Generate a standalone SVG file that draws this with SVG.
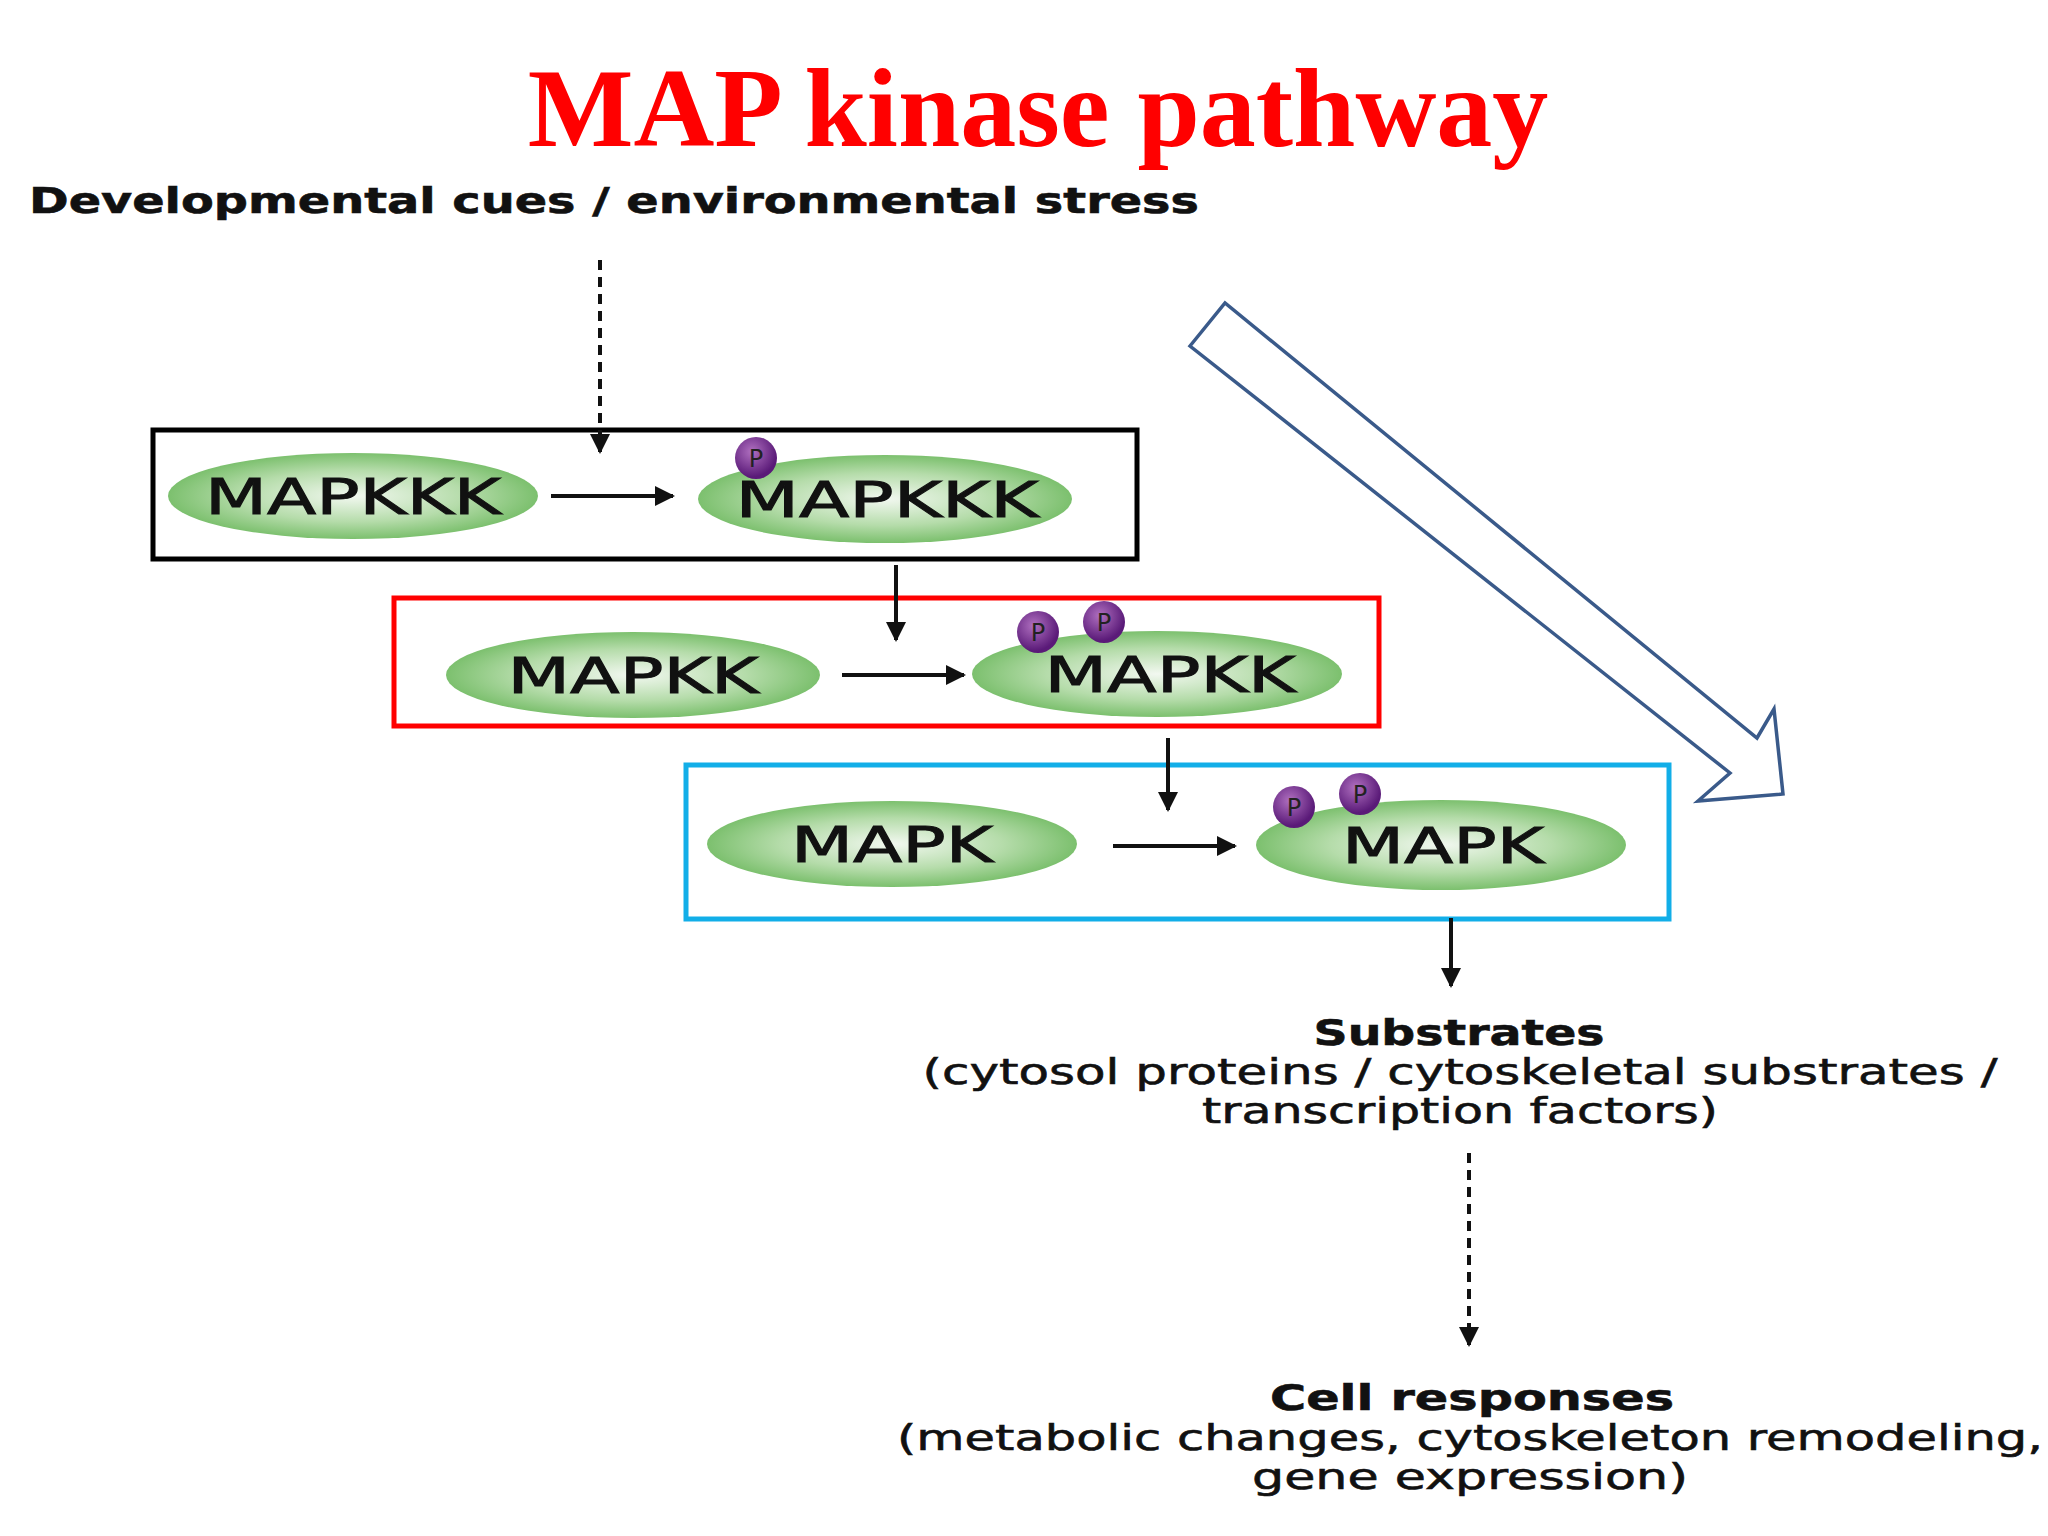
<svg xmlns="http://www.w3.org/2000/svg" width="2048" height="1536" viewBox="0 0 2048 1536">
<defs>
<radialGradient id="g" cx="50%" cy="50%" r="50%"><stop offset="0" stop-color="#f2f8f0"/><stop offset="0.6" stop-color="#b5dcaa"/><stop offset="1" stop-color="#7cc06e"/></radialGradient>
<radialGradient id="pg" cx="40%" cy="35%" r="60%"><stop offset="0" stop-color="#b070c0"/><stop offset="1" stop-color="#5a1a78"/></radialGradient>
<marker id="ah" viewBox="0 0 10 10" refX="9" refY="5" markerWidth="5" markerHeight="5" orient="auto"><path d="M0,0L10,5L0,10z" fill="#111"/></marker>
<style>
.e{fill:url(#g)}
.t{font-family:"DejaVu Sans",sans-serif;font-size:50px;fill:#111;text-anchor:middle;stroke:#111;stroke-width:1}
.p circle{fill:url(#pg)}
.p text{font-family:"DejaVu Sans",sans-serif;font-size:24px;fill:#222;text-anchor:middle}
.c{stroke:#111;stroke-width:4;fill:none;marker-end:url(#ah)}
.d{stroke-dasharray:10 7}
.lb{font-family:"DejaVu Sans",sans-serif;font-size:36px;fill:#111;text-anchor:middle;stroke:#111;stroke-width:0.6}
.b{font-weight:bold}
</style>
</defs>
<rect width="2048" height="1536" fill="#fff"/>
<text x="1038" y="146" font-family="Liberation Serif,serif" font-weight="bold" font-size="112" fill="#f00" text-anchor="middle">MAP kinase pathway</text>
<text x="29" y="213" class="lb b" style="text-anchor:start" textLength="1170" lengthAdjust="spacingAndGlyphs">Developmental cues / environmental stress</text>
<g id="box1"><rect x="153" y="430" width="984" height="129" fill="none" stroke="#000" stroke-width="5"/></g>
<g id="box2"><rect x="394" y="598" width="985" height="128" fill="none" stroke="#f00" stroke-width="5"/></g>
<g id="box3"><rect x="686" y="765" width="983" height="154" fill="none" stroke="#12aee8" stroke-width="5"/></g>
<g id="mapkkk1"><ellipse class="e" cx="353" cy="496" rx="185" ry="43"/><text class="t" x="353" y="514" textLength="296" lengthAdjust="spacingAndGlyphs">MAPKKK</text></g>
<g id="mapkkk2"><ellipse class="e" cx="885" cy="499" rx="187" ry="44"/><text class="t" x="887" y="517" textLength="303" lengthAdjust="spacingAndGlyphs">MAPKKK</text><g class="p"><circle cx="756" cy="458" r="21"/><text x="756" y="467">P</text></g></g>
<g id="mapkk1"><ellipse class="e" cx="633" cy="675" rx="187" ry="43"/><text class="t" x="633" y="693" textLength="251" lengthAdjust="spacingAndGlyphs">MAPKK</text></g>
<g id="mapkk2"><ellipse class="e" cx="1157" cy="674" rx="185" ry="43"/><text class="t" x="1170" y="692" textLength="251" lengthAdjust="spacingAndGlyphs">MAPKK</text><g class="p"><circle cx="1038" cy="632" r="21"/><text x="1038" y="641">P</text><circle cx="1104" cy="622" r="21"/><text x="1104" y="631">P</text></g></g>
<g id="mapk1"><ellipse class="e" cx="892" cy="844" rx="185" ry="43"/><text class="t" x="892" y="862" textLength="202" lengthAdjust="spacingAndGlyphs">MAPK</text></g>
<g id="mapk2"><ellipse class="e" cx="1441" cy="845" rx="185" ry="45"/><text class="t" x="1443" y="863" textLength="202" lengthAdjust="spacingAndGlyphs">MAPK</text><g class="p"><circle cx="1294" cy="807" r="21"/><text x="1294" y="816">P</text><circle cx="1360" cy="794" r="21"/><text x="1360" y="803">P</text></g></g>
<g id="substrates"><text class="lb b" x="1459" y="1045" textLength="291" lengthAdjust="spacingAndGlyphs">Substrates</text><text class="lb" x="1460" y="1084" textLength="1075" lengthAdjust="spacingAndGlyphs">(cytosol proteins / cytoskeletal substrates /</text><text class="lb" x="1460" y="1123" textLength="516" lengthAdjust="spacingAndGlyphs">transcription factors)</text></g>
<g id="responses"><text class="lb b" x="1472" y="1410" textLength="404" lengthAdjust="spacingAndGlyphs">Cell responses</text><text class="lb" x="1470" y="1450" textLength="1146" lengthAdjust="spacingAndGlyphs">(metabolic changes, cytoskeleton remodeling,</text><text class="lb" x="1470" y="1489" textLength="436" lengthAdjust="spacingAndGlyphs">gene expression)</text></g>
<g id="connectors">
<path class="c d" d="M600,260V452"/>
<path class="c" d="M551,496H673"/>
<path class="c" d="M896,565V640"/>
<path class="c" d="M842,675H964"/>
<path class="c" d="M1168,738V810"/>
<path class="c" d="M1113,846H1235"/>
<path class="c" d="M1451,918V986"/>
<path class="c d" d="M1469,1153V1345"/>
<path d="M1190,346L1225,303L1757,738L1774,709L1783,794L1698,801L1730,773Z" fill="none" stroke="#3a5a8a" stroke-width="3.5"/>
</g>
</svg>
